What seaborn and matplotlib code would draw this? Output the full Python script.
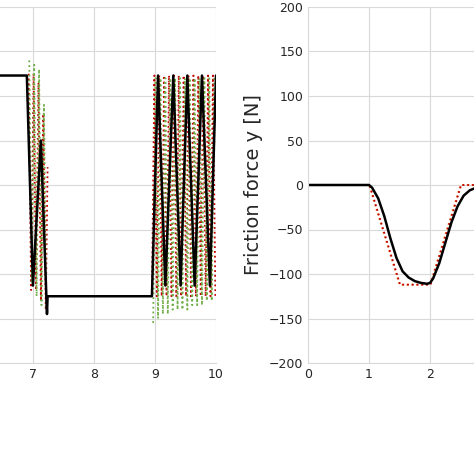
import matplotlib
matplotlib.use("Agg")
import matplotlib.pyplot as plt
import seaborn as sns

# left panel (time 6.46 .. 10)
black_t = [6.46, 6.90, 7.00, 7.13, 7.23, 7.24, 8.95, 9.05, 9.17, 9.30, 9.42, 9.53, 9.65, 9.77, 9.90, 10.0]
black_f = [123, 123, -113, 50, -145, -125, -125, 123, -113, 123, -113, 123, -113, 123, -113, 123]
# red dotted, two bursts
red1_t = [6.93, 6.97, 7.01, 7.05, 7.09, 7.13, 7.17, 7.21, 7.24]
red1_f = [125, -118, 125, -118, 115, -130, 80, -140, 20]
red2_t = [8.95, 8.99, 9.03, 9.07, 9.11, 9.15, 9.19, 9.23, 9.27, 9.31, 9.35, 9.39, 9.43, 9.47,
          9.51, 9.55, 9.59, 9.63, 9.67, 9.71, 9.75, 9.79, 9.83, 9.87, 9.91, 9.95, 9.99]
red2_f = [-125, 123, -125, 123, -125, 123, -125, 123, -125, 123, -125, 123, -125, 123,
          -125, 123, -125, 123, -125, 123, -125, 123, -125, 123, -125, 123, -125]
# green dotted, two bursts
green1_t = [6.94, 6.98, 7.02, 7.06, 7.10, 7.14, 7.18, 7.22, 7.27]
green1_f = [140, -110, 135, -125, 130, -135, 90, -140, -145]
green2_t = [8.97, 9.01, 9.05, 9.09, 9.13, 9.17, 9.21, 9.25, 9.29, 9.33, 9.37, 9.41, 9.45, 9.49,
            9.53, 9.57, 9.61, 9.65, 9.69, 9.73, 9.77, 9.81, 9.85, 9.89, 9.93, 9.97]
green2_f = [-155, 120, -150, 120, -145, 120, -145, 120, -140, 120, -140, 120, -140, 120,
            -140, 120, -135, 120, -135, 120, -135, 120, -130, 120, -130, 120]

# right panel: friction force y
fy_t = [0, 1.0, 1.05, 1.15, 1.25, 1.35, 1.45, 1.55, 1.65, 1.75, 1.85, 1.95, 2.0, 2.05, 2.15, 2.25, 2.35, 2.45, 2.55, 2.65, 2.72]
fy_black = [0, 0, -3, -15, -35, -60, -82, -97, -104, -108, -110, -111, -110, -105, -88, -65, -42, -24, -12, -6, -4]
fy_red_t = [0, 1.0, 1.5, 2.0, 2.5, 2.72]
fy_red = [0, 0, -112, -112, 0, 0]

sns.set_style("whitegrid", {"grid.color": "#d9d9d9"})
fig = plt.figure(figsize=(4.74, 4.74), dpi=100)
bottom = (474 - 363) / 474
height = 356 / 474
ax1 = fig.add_axes([0, bottom, 216 / 474, height])
ax2 = fig.add_axes([308 / 474, bottom, 166 / 474, height])

for t, f in [(red1_t, red1_f), (red2_t, red2_f)]:
    sns.lineplot(x=t, y=f, ax=ax1, color="#c00000", lw=1.3, ls=":", sort=False)
for t, f in [(green1_t, green1_f), (green2_t, green2_f)]:
    sns.lineplot(x=t, y=f, ax=ax1, color="#70ad47", lw=1.3, ls=":", sort=False)
sns.lineplot(x=black_t, y=black_f, ax=ax1, color="black", lw=1.8, sort=False)
ax1.set_xlim(6.46, 10)
ax1.set_ylim(-200, 200)
ax1.set_xticks([7, 8, 9, 10])
ax1.set_yticks(range(-200, 201, 50))
ax1.set_yticklabels([])

sns.lineplot(x=fy_red_t, y=fy_red, ax=ax2, color="#ed7d31", lw=1.3, ls=":", sort=False)
sns.lineplot(x=[t + 0.01 for t in fy_red_t], y=fy_red, ax=ax2, color="#c00000", lw=1.3, ls=":", sort=False)
sns.lineplot(x=fy_t, y=fy_black, ax=ax2, color="black", lw=1.8, sort=False)
ax2.set_xlim(0, 2.72)
ax2.set_ylim(-200, 200)
ax2.set_xticks([0, 1, 2])
ax2.set_yticks(range(-200, 201, 50))
ax2.set_ylabel("Friction force y [N]", fontsize=14)

for ax in (ax1, ax2):
    ax.tick_params(labelsize=9, length=0)
    for s in ax.spines.values():
        s.set_visible(False)
    ax.spines["bottom"].set_visible(True)
    ax.spines["bottom"].set_color("#d9d9d9")
ax2.spines["left"].set_visible(True)
ax2.spines["left"].set_color("#d9d9d9")

fig.savefig("out.png", dpi=100)
